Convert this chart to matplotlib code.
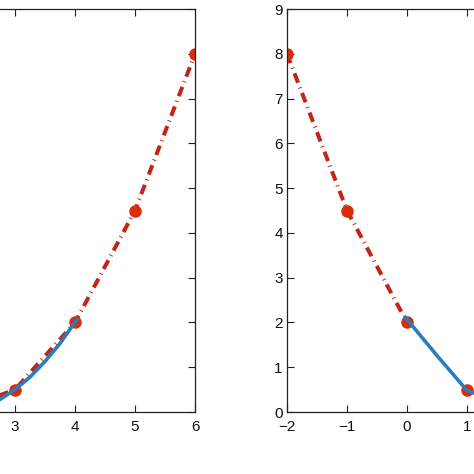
import matplotlib
matplotlib.use('Agg')
import matplotlib.pyplot as plt

plt.rcParams['font.family'] = ['Liberation Sans', 'DejaVu Sans']
plt.rcParams['lines.scale_dashes'] = False

# Left panel: sample points (red) and the smooth curve (blue)
left_pts_x = [2, 3, 4, 5, 6]
left_pts_y = [0, 0.5, 2, 4.5, 8]
left_curve_x = [2.0, 2.25, 2.5, 2.75, 3.0, 3.25, 3.5, 3.75, 4.05]
left_curve_y = [0.0, 0.03, 0.13, 0.28, 0.5, 0.78, 1.13, 1.53, 2.1]
left_ticks = [3, 4, 5, 6]

# Right panel
right_pts_x = [-2, -1, 0, 1]
right_pts_y = [8, 4.5, 2, 0.5]
right_line_x = [-2, -1, -0.08]
right_line_y = [8, 4.5, 2.2]
right_curve_x = [-0.05, 0.5, 1.0, 1.12, 1.3]
right_curve_y = [2.15, 1.26, 0.48, 0.42, 0.38]
right_ticks = [-2, -1, 0, 1]
right_tick_labels = ['\u22122', '\u22121', '0', '1']

red_line = '#c3241a'
red_dot = '#d92c08'
blue = '#2a7dbd'
dashdot = (0, (7.2, 3.6, 0.7, 3.6))

fig = plt.figure(figsize=(4.74, 4.74), dpi=100)
ax1 = fig.add_axes([-0.0949, 0.1308, 0.5063, 0.8502])
ax2 = fig.add_axes([0.6055, 0.1308, 0.5063, 0.8502])

# left plot
ax1.plot(left_pts_x, left_pts_y, color=red_line, lw=2.9, linestyle=dashdot,
         dash_capstyle='butt')
ax1.plot(left_pts_x, left_pts_y, 'o', color=red_dot, ms=8, mec=red_dot)
ax1.plot(left_curve_x, left_curve_y, color=blue, lw=2.6, solid_capstyle='butt')
ax1.set_xlim(2, 6)
ax1.set_xticks(left_ticks)

# right plot
ax2.plot(right_line_x, right_line_y, color=red_line, lw=2.9, linestyle=dashdot,
         dash_capstyle='butt')
ax2.plot(right_pts_x, right_pts_y, 'o', color=red_dot, ms=8, mec=red_dot)
ax2.plot(right_curve_x, right_curve_y, color=blue, lw=2.6, solid_capstyle='butt')
ax2.set_xlim(-2, 2)
ax2.set_xticks(right_ticks)
ax2.set_xticklabels(right_tick_labels)

for ax in (ax1, ax2):
    ax.set_ylim(0, 9)
    ax.set_yticks(range(10))
    ax.tick_params(direction='in', top=True, right=True, length=5, width=0.8,
                   labelsize=11, colors='#222222', labelcolor='#111111')
    ax.tick_params(axis='x', pad=6)
    ax.tick_params(axis='y', pad=3)
    for s in ax.spines.values():
        s.set_linewidth(0.9)
        s.set_color('#222222')

# the left panel's y labels sit outside the visible crop
ax1.tick_params(axis='y', labelleft=False)

fig.savefig('out.png', dpi=100)
